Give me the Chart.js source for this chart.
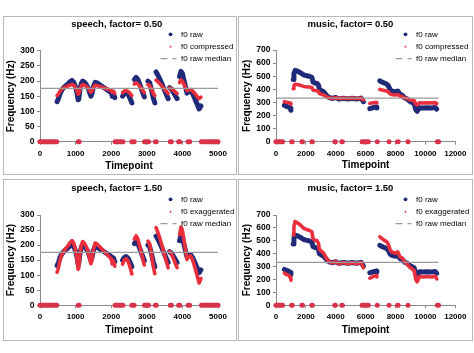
<!DOCTYPE html>
<html><head><meta charset="utf-8">
<script src="https://cdn.jsdelivr.net/npm/chart.js@4/dist/chart.umd.min.js"></script>
<style>
html,body{margin:0;padding:0;background:#fff;width:474px;height:353px;overflow:hidden}
.panel{position:absolute;border:1px solid #b8b8b8}
canvas{display:block}
</style></head><body>
<div class="panel" style="left:3px;top:16px;width:232px;height:157px"><canvas id="c1" width="232" height="157"></canvas></div>
<div class="panel" style="left:238px;top:16px;width:233px;height:157px"><canvas id="c2" width="233" height="157"></canvas></div>
<div class="panel" style="left:3px;top:179px;width:232px;height:160px"><canvas id="c3" width="232" height="160"></canvas></div>
<div class="panel" style="left:238px;top:179px;width:233px;height:160px"><canvas id="c4" width="233" height="160"></canvas></div>
<script>
// ---------- DATA (timepoint, Hz); null = gap in voicing ----------
const speechXTicks = [0,1000,2000,3000,4000,5000];
const speechYTicks = [0,50,100,150,200,250,300];
const musicXTicks = [0,2000,4000,6000,8000,10000,12000];
const musicYTicks = [0,100,200,300,400,500,600,700];

const speechMedian = 176;
const musicMedian = 333;

const speechRaw = [
 [480,132],[520,142],[560,158],[620,172],[700,182],[780,190],[850,198],[900,202],[950,196],[1000,180],[1040,160],[1070,138], null,
 [1090,140],[1120,170],[1160,192],[1200,200],[1250,196],[1300,188],[1350,178],[1400,160],[1430,150],[1460,158],[1500,182],[1550,196],[1600,194],[1700,186],[1800,178],[1900,170],[2000,162],[2030,150],[2060,158],[2100,145], null,
 [2320,150],[2360,158],[2420,162],[2480,155],[2540,140],[2580,128], null,
 [2650,205],[2700,212],[2750,205],[2800,190],[2860,170],[2930,148], null,
 [3030,200],[3080,195],[3130,172],[3180,145],[3225,128], null,
 [3260,230],[3300,222],[3360,208],[3420,192],[3480,175],[3540,158],[3600,142], null,
 [3640,178],[3700,172],[3760,160],[3820,148],[3850,142], null,
 [3920,215],[3960,232],[4000,225],[4050,200],[4100,175],[4130,160], null,
 [4170,165],[4230,168],[4290,158],[4350,142],[4410,125],[4470,108],[4520,118]
];
const speechCompressed = [
 [480,152],[520,158],[560,166],[620,174],[700,179],[780,183],[850,187],[900,189],[950,186],[1000,178],[1040,168],[1070,157], null,
 [1090,158],[1120,172],[1160,184],[1200,188],[1250,186],[1300,182],[1350,177],[1400,168],[1430,163],[1460,167],[1500,179],[1550,186],[1600,185],[1700,181],[1800,177],[1900,173],[2000,169],[2030,163],[2060,167],[2100,160], null,
 [2320,162],[2360,166],[2420,168],[2480,165],[2540,158],[2580,152], null,
 [2650,190],[2700,194],[2750,190],[2800,183],[2860,173],[2930,162], null,
 [3030,188],[3080,185],[3130,174],[3180,160],[3225,152], null,
 [3260,203],[3300,199],[3360,192],[3420,184],[3480,175],[3540,167],[3600,159], null,
 [3640,177],[3700,174],[3760,168],[3820,162],[3850,159], null,
 [3920,195],[3960,204],[4000,200],[4050,188],[4100,175],[4130,168], null,
 [4170,170],[4230,172],[4290,167],[4350,159],[4410,150],[4470,142],[4520,147]
];
const speechExaggerated = [
 [480,110],[520,125],[560,149],[620,170],[700,185],[780,197],[850,209],[900,215],[950,206],[1000,182],[1040,152],[1070,120], null,
 [1090,123],[1120,167],[1160,200],[1200,212],[1250,206],[1300,194],[1350,179],[1400,152],[1430,138],[1460,150],[1500,186],[1550,207],[1600,204],[1700,192],[1800,179],[1900,167],[2000,155],[2030,137],[2060,149],[2100,130], null,
 [2320,137],[2360,149],[2420,155],[2480,145],[2540,122],[2580,104], null,
 [2650,220],[2700,231],[2750,220],[2800,197],[2860,167],[2930,134], null,
 [3030,213],[3080,205],[3130,171],[3180,130],[3225,105], null,
 [3260,258],[3300,246],[3360,225],[3420,201],[3480,175],[3540,149],[3600,125], null,
 [3640,179],[3700,170],[3760,152],[3820,134],[3850,125], null,
 [3920,235],[3960,260],[4000,250],[4050,212],[4100,175],[4130,152], null,
 [4170,160],[4230,164],[4290,150],[4350,126],[4410,100],[4470,74],[4520,89]
];
const speechZeroRuns = [[0,470],[1075,1100],[2110,2330],[2580,2645],[2935,3050],[3240,3265],[3660,3690],[3895,3925],[4160,4205],[4535,5000]];

const musicRaw = [
 [560,278],[650,272],[750,268],[850,265],[950,255],[1000,240], null,
 [1150,475],[1200,520],[1280,545],[1400,540],[1550,532],[1700,522],[1850,510],[2000,505],[2200,500],[2400,492],[2480,455],[2600,448],[2750,445],[2850,430],[2900,400],[3050,390],[3200,380],[3300,365],[3450,345],[3600,335],[3800,330],[4000,338],[4200,325],[4500,332],[4800,326],[5100,332],[5400,326],[5700,333],[5850,305], null,
 [6280,252],[6400,256],[6550,262],[6700,265],[6750,258], null,
 [6950,465],[7100,455],[7250,448],[7400,440],[7500,430],[7650,395],[7800,385],[8000,380],[8150,387],[8300,362],[8450,355],[8600,335],[8750,328],[8950,308],[9100,300],[9250,290],[9350,245],[9450,232],[9600,260],[9850,258],[10100,260],[10400,258],[10650,262],[10760,248]
];
const musicCompressed = [
 [560,305],[650,302],[750,300],[850,299],[950,294],[1000,287], null,
 [1150,404],[1200,427],[1280,439],[1400,437],[1550,433],[1700,428],[1850,422],[2000,419],[2200,417],[2400,413],[2480,394],[2600,391],[2750,389],[2850,382],[2900,367],[3050,362],[3200,357],[3300,349],[3450,339],[3600,334],[3800,332],[4000,336],[4200,329],[4500,333],[4800,330],[5100,333],[5400,330],[5700,333],[5850,319], null,
 [6280,293],[6400,295],[6550,298],[6700,299],[6750,296], null,
 [6950,399],[7100,394],[7250,391],[7400,387],[7500,382],[7650,364],[7800,359],[8000,357],[8150,360],[8300,348],[8450,344],[8600,334],[8750,331],[8950,321],[9100,317],[9250,312],[9350,289],[9450,283],[9600,297],[9850,296],[10100,297],[10400,296],[10650,298],[10760,291]
];
const musicExaggerated = [
 [560,250],[650,242],[750,236],[850,232],[950,217],[1000,195], null,
 [1150,545],[1200,612],[1280,650],[1400,642],[1550,630],[1700,615],[1850,597],[2000,590],[2200,582],[2400,570],[2480,515],[2600,505],[2750,500],[2850,478],[2900,433],[3050,418],[3200,403],[3300,381],[3450,351],[3600,336],[3800,328],[4000,340],[4200,321],[4500,332],[4800,322],[5100,332],[5400,322],[5700,333],[5850,291], null,
 [6280,211],[6400,217],[6550,226],[6700,231],[6750,220], null,
 [6950,531],[7100,516],[7250,505],[7400,493],[7500,478],[7650,426],[7800,411],[8000,403],[8150,414],[8300,376],[8450,366],[8600,336],[8750,325],[8950,295],[9100,283],[9250,268],[9350,201],[9450,182],[9600,223],[9850,220],[10100,223],[10400,220],[10650,226],[10760,205]
];
const musicZeroRuns = [[0,440],[1045,1085],[1735,1775],[2395,2435],[3935,3975],[4405,4445],[5760,6180],[6780,6820],[7565,7605],[8135,8175],[8835,8875],[10800,10880]];

const titles = ['speech, factor= 0.50','music, factor= 0.50','speech, factor= 1.50','music, factor= 1.50'];
const legendCompressed = ['f0 raw','f0 compressed','f0 raw median'];
const legendExaggerated = ['f0 raw','f0 exaggerated','f0 raw median'];

// ---------- RENDERING ----------
const FAM = '"Liberation Sans", Arial, Helvetica, sans-serif';
Chart.defaults.font.family = FAM;
const NAVY = '#1f2b78', RED = '#ea2f3c', ZRED = '#d8334a', GRAY = '#9a9a9a';

function pts(list){
  const out=[]; let last=0;
  for (const p of list){
    if (p===null) out.push({x:last,y:null});
    else { out.push({x:p[0],y:p[1]}); last=p[0]; }
  }
  return out;
}
function zeroPts(runs){
  const out=[];
  runs.forEach(r=>{ out.push({x:r[0],y:0},{x:r[1],y:0},{x:r[1],y:null}); });
  return out;
}
function maxX(runs){ return Math.max(...runs.map(r=>r[1])); }

const decor = {
  id:'decor',
  afterDraw(chart, args, o){
    const ctx = chart.ctx; ctx.save();
    ctx.fillStyle='#000'; ctx.textBaseline='middle';
    ctx.font = 'bold 9.5px '+FAM; ctx.textAlign='center';
    ctx.fillText(o.title, o.tx, o.ty);
    ctx.font = '8px '+FAM; ctx.textAlign='left';
    o.labels.forEach((lab,i)=>ctx.fillText(lab, o.lx, o.ly + i*o.dy));
    ctx.fillStyle = NAVY; ctx.beginPath(); ctx.arc(o.mx, o.ly, 1.9, 0, Math.PI*2); ctx.fill();
    ctx.fillStyle = RED; ctx.beginPath();
    const y2 = o.ly + o.dy;
    ctx.moveTo(o.mx-1.3, y2+1.1); ctx.lineTo(o.mx+1.3, y2+1.1); ctx.lineTo(o.mx, y2-1.3); ctx.closePath(); ctx.fill();
    const y3 = o.ly + 2*o.dy;
    ctx.strokeStyle = GRAY; ctx.lineWidth = 1.2; ctx.beginPath();
    ctx.moveTo(o.mx-10, y3); ctx.lineTo(o.mx-3, y3); ctx.moveTo(o.mx+2, y3); ctx.lineTo(o.mx+6, y3); ctx.stroke();
    ctx.restore();
  }
};

function makeChart(id, c){
  const xTickFont = {size:8, weight:'bold', family:FAM};
  const yTickFont = {size:8.5, weight:'bold', family:FAM};
  new Chart(document.getElementById(id), {
    type:'scatter',
    data:{datasets:[
      {data:pts(c.mod), showLine:true, borderColor:RED, backgroundColor:RED, borderWidth:3.6, pointRadius:0, order:1, spanGaps:false, borderCapStyle:'round', borderJoinStyle:'round', clip:8},
      {data:zeroPts(c.zeros), showLine:true, borderColor:ZRED, backgroundColor:ZRED, borderWidth:5, pointRadius:0, order:2, spanGaps:false, borderCapStyle:'round', clip:8},
      {data:pts(c.raw), showLine:true, borderColor:NAVY, backgroundColor:NAVY, borderWidth:5, pointRadius:0, order:3, spanGaps:false, borderCapStyle:'round', borderJoinStyle:'round', clip:8},
      {data:[{x:0,y:c.median},{x:maxX(c.zeros),y:c.median}], showLine:true, borderColor:GRAY, borderWidth:1.2, pointRadius:0, order:0, clip:8}
    ]},
    options:{
      responsive:false, animation:false, events:[],
      layout:{padding:{top:c.padTop, right:c.padRight, left:0, bottom:0}},
      plugins:{legend:{display:false}, tooltip:{enabled:false},
        decor:{title:c.title, tx:c.tx, ty:c.ty, labels:c.labels, lx:177, ly:c.ly, dy:12.2, mx:166.5}},
      scales:{
        x:{type:'linear', min:0, max:c.xTicks[c.xTicks.length-1],
          afterBuildTicks:s=>{ s.ticks = c.xTicks.map(v=>({value:v})); },
          afterFit:s=>{ s.height = c.xH; },
          ticks:{font:xTickFont, color:'#000', padding:4, maxRotation:0, autoSkip:false, callback:v=>String(v)},
          grid:{drawOnChartArea:false, drawTicks:true, tickLength:3, color:'#8a8a8a'},
          border:{color:'#8a8a8a', width:1},
          title:{display:true, text:'Timepoint', color:'#000', font:{size:10, weight:'bold', family:FAM}, padding:{top:0, bottom:c.xTitlePad}}
        },
        y:{type:'linear', min:0, max:c.yTicks[c.yTicks.length-1],
          afterBuildTicks:s=>{ s.ticks = c.yTicks.map(v=>({value:v})); },
          afterFit:s=>{ s.width = c.yW; },
          ticks:{font:yTickFont, color:'#000', padding:2.5, autoSkip:false, callback:v=>String(v)},
          grid:{drawOnChartArea:false, drawTicks:true, tickLength:3, color:'#8a8a8a'},
          border:{color:'#8a8a8a', width:1},
          title:{display:true, text:'Frequency (Hz)', color:'#000', font:{size:10, weight:'bold', family:FAM}, padding:{top:c.yTitlePad, bottom:0}}
        }
      }
    },
    plugins:[decor]
  });
}

makeChart('c1', {raw:speechRaw, mod:speechCompressed, zeros:speechZeroRuns, median:speechMedian, xTicks:speechXTicks, yTicks:speechYTicks,
  title:titles[0], labels:legendCompressed, tx:112.7, ty:7.5, ly:17.3,
  padTop:33.7, padRight:18, yW:36, xH:32.3, xTitlePad:2, yTitlePad:1});
makeChart('c2', {raw:musicRaw, mod:musicCompressed, zeros:musicZeroRuns, median:musicMedian, xTicks:musicXTicks, yTicks:musicYTicks,
  title:titles[1], labels:legendCompressed, tx:111.5, ty:7.5, ly:17.3,
  padTop:33, padRight:16.7, yW:37, xH:32.3, xTitlePad:2.3, yTitlePad:2});
makeChart('c3', {raw:speechRaw, mod:speechExaggerated, zeros:speechZeroRuns, median:speechMedian, xTicks:speechXTicks, yTicks:speechYTicks,
  title:titles[2], labels:legendExaggerated, tx:112.7, ty:8.5, ly:19.3,
  padTop:35, padRight:18, yW:36, xH:34.7, xTitlePad:4, yTitlePad:1});
makeChart('c4', {raw:musicRaw, mod:musicExaggerated, zeros:musicZeroRuns, median:musicMedian, xTicks:musicXTicks, yTicks:musicYTicks,
  title:titles[3], labels:legendExaggerated, tx:111.5, ty:8.5, ly:19.3,
  padTop:35, padRight:16.7, yW:37, xH:34.7, xTitlePad:3.7, yTitlePad:2});
</script>
</body></html>
